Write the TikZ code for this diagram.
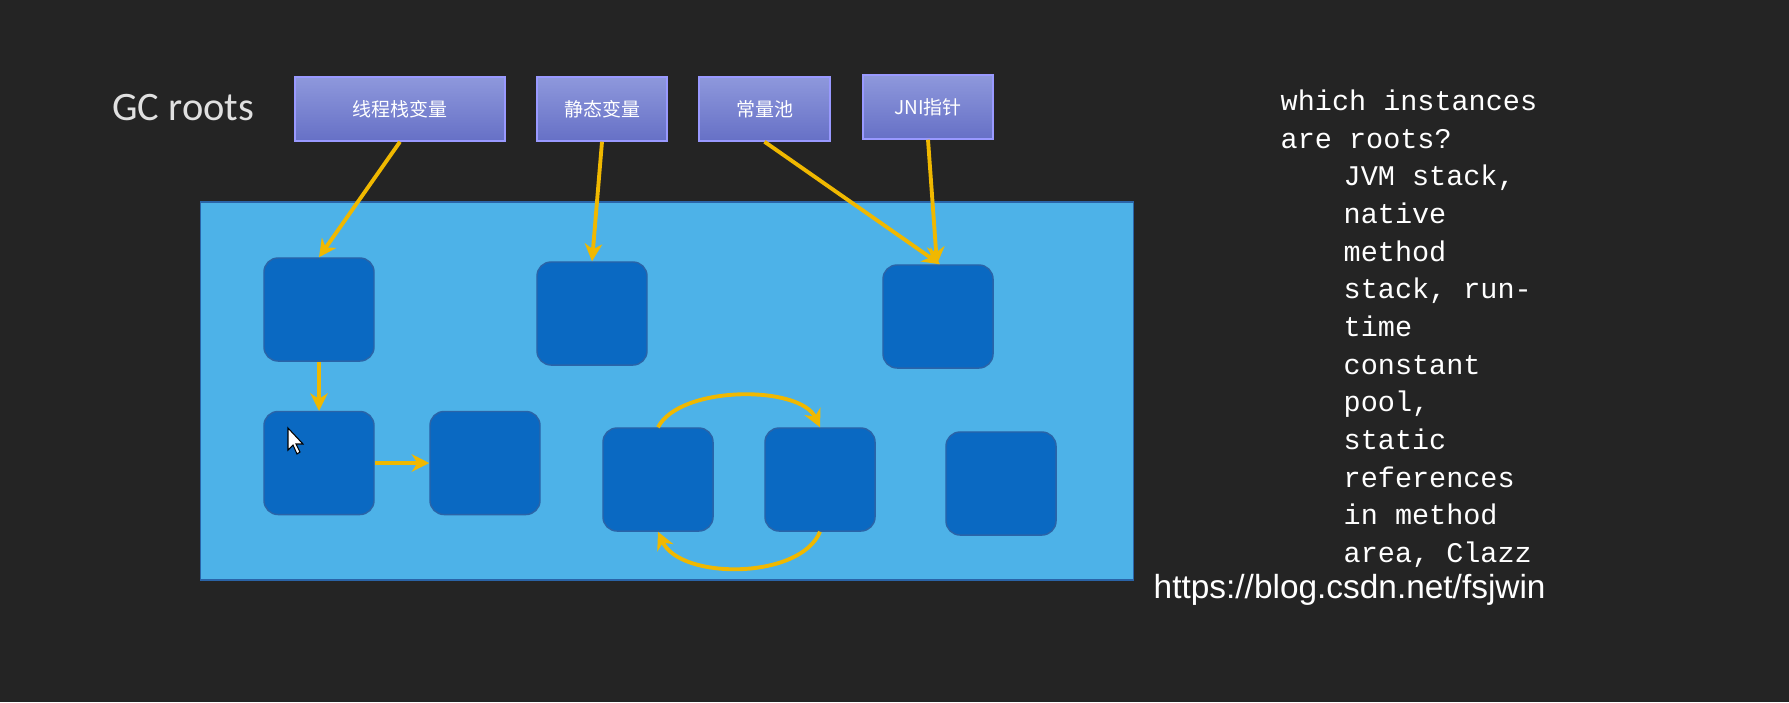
\documentclass[tikz,border=0pt]{standalone}
\usepackage{fontspec}
\setmainfont{Carlito}
\newfontfamily\cjk{Noto Sans CJK SC}
\newfontfamily\monof{Liberation Mono}
\newfontfamily\arialf{Liberation Sans}
\usetikzlibrary{arrows.meta}
\definecolor{bg}{HTML}{242424}
\definecolor{panel}{HTML}{4DB2E8}
\definecolor{obj}{HTML}{0A69C2}
\definecolor{arr}{HTML}{F0B800}
\definecolor{HTML8E98DC}{HTML}{8E98DC}
\definecolor{HTML6670C6}{HTML}{6670C6}
\definecolor{HTML2A64A8}{HTML}{2A64A8}
\tikzset{
 hdr/.style={draw=white!60!blue,top color=HTML8E98DC,bottom color=HTML6670C6,text=white,font=\cjk\fontsize{5.4}{6}\selectfont,inner sep=0pt},
 objbox/.style={draw=HTML2A64A8,fill=obj,rounded corners=4pt,minimum width=1.1cm,minimum height=1.03cm,inner sep=0pt},
 link/.style={draw=arr,line width=1.1pt,-{Stealth[length=5pt,width=5pt]}},
 rtext/.style={text=white,font=\monof\fontsize{8.1}{10}\selectfont,anchor=base west,inner sep=0pt}
}
\begin{document}
\begin{tikzpicture}[x=0.01cm,y=-0.01cm]
\fill[bg] (0,0) rectangle (1789,702);
\useasboundingbox (0,0) rectangle (1789,702);
\node[text=white!88!black,font=\fontsize{11.5}{13}\selectfont,anchor=west] (gc) at (100,108) {GC roots};
\node[hdr,minimum width=2.1cm,minimum height=0.64cm] (h1) at (400,109) {线程栈变量};
\node[hdr,minimum width=1.3cm,minimum height=0.64cm] (h2) at (602,109) {静态变量};
\node[hdr,minimum width=1.31cm,minimum height=0.64cm] (h3) at (764.5,109) {常量池};
\node[hdr,minimum width=1.3cm,minimum height=0.64cm] (h4) at (928,107) {JNI指针};
\node[draw=HTML2A64A8,fill=panel,minimum width=9.32cm,minimum height=3.78cm,inner sep=0pt] (panel) at (667,391) {};
\node[objbox] (A) at (319,309.5) {};
\node[objbox] (B) at (592,313.5) {};
\node[objbox] (C) at (938,316.5) {};
\node[objbox] (D) at (319,463) {};
\node[objbox] (E) at (485,463) {};
\node[objbox] (F) at (658,479.5) {};
\node[objbox] (G) at (820,479.5) {};
\node[objbox] (H) at (1001,483.5) {};
\draw[link] (h1.south) -- (A.north);
\draw[link] (h2.south) -- (B.north);
\draw[link] (h3.south) -- ([xshift=0.02cm]C.north);
\draw[link] (h4.south) -- ([xshift=-0.01cm]C.north);
\draw[link] (A.south) -- (D.north);
\draw[link] (D.east) -- (E.west);
\draw[link] (F.north) .. controls (680,385) and (800,385) .. (G.north);
\draw[link] (G.south) .. controls (800,580) and (680,580) .. (F.south);
\fill[white,draw=black,line width=0.3pt] (288,428) -- (288,450) -- (293,445) -- (297,454) -- (300,452) -- (296,444) -- (303,444) -- cycle;
\foreach \t/\x/\y in {which instances/1280/110, are roots?/1280/148, {JVM stack,}/1343/185, native/1343/223, method/1343/261, {stack, run-}/1343/298, time/1343/336, constant/1343/374, {pool,}/1343/411, static/1343/449, references/1343/487, in method/1343/524, {area, Clazz}/1343/562}
 \node[rtext] at (\x,\y) {\t};
\node[text=white,font=\arialf\fontsize{9.5}{12}\selectfont,anchor=base west,inner sep=0pt] (wm) at (1153,598) {https://blog.csdn.net/fsjwin};
\end{tikzpicture}
\end{document}
